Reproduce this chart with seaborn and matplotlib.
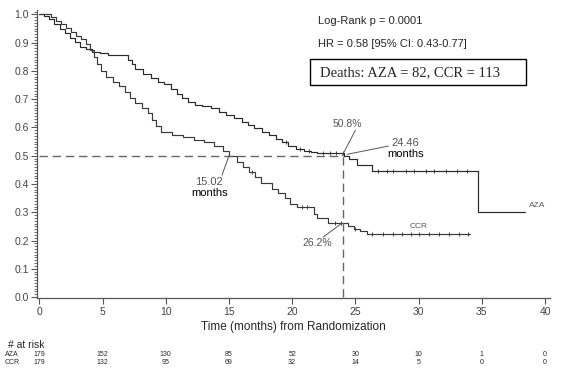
import matplotlib
matplotlib.use("Agg")
import matplotlib.pyplot as plt
import matplotlib.patches as mpatches
from matplotlib.ticker import MultipleLocator
import numpy as np
import pandas as pd
import seaborn as sns

# Kaplan-Meier step points
aza_time = [0, 0.4, 0.8, 1.2, 1.6, 2.0, 2.4, 2.8, 3.2, 3.7, 4.2, 4.8, 5.4, 7.0, 7.3, 7.6,
            8.2, 8.8, 9.4, 9.9, 10.4, 10.9, 11.3, 11.8, 12.3, 12.9, 13.6, 14.2, 14.8, 15.4,
            16.0, 16.5, 17.0, 17.6, 18.2, 18.7, 19.2, 19.7, 20.3, 20.9, 21.5, 22.0, 24.1,
            24.5, 25.1, 26.3, 34.7, 38.4]
aza_surv = [1.0, 0.994, 0.983, 0.966, 0.95, 0.934, 0.918, 0.902, 0.886, 0.876, 0.868, 0.862,
            0.855, 0.84, 0.826, 0.805, 0.79, 0.776, 0.762, 0.752, 0.735, 0.72, 0.705, 0.69,
            0.68, 0.676, 0.668, 0.656, 0.644, 0.632, 0.62, 0.61, 0.598, 0.585, 0.572, 0.56,
            0.548, 0.535, 0.525, 0.518, 0.512, 0.508, 0.50, 0.49, 0.466, 0.446, 0.30, 0.30]

ccr_time = [0, 0.9, 1.3, 1.7, 2.1, 2.5, 2.9, 3.3, 3.7, 4.0, 4.3, 4.6, 4.9, 5.3, 5.8, 6.3,
            6.8, 7.2, 7.6, 8.1, 8.6, 8.9, 9.2, 9.6, 10.5, 11.4, 12.2, 13.0, 13.8, 14.5, 15.0,
            15.6, 16.1, 16.6, 17.1, 17.5, 18.4, 18.9, 19.4, 19.8, 20.4, 21.7, 22.0, 22.8,
            24.4, 24.9, 25.4, 25.9, 34.1]
ccr_surv = [1.0, 0.99, 0.978, 0.966, 0.952, 0.938, 0.925, 0.912, 0.895, 0.875, 0.85, 0.825,
            0.8, 0.78, 0.762, 0.745, 0.725, 0.705, 0.685, 0.668, 0.65, 0.628, 0.606, 0.585,
            0.575, 0.565, 0.556, 0.548, 0.535, 0.515, 0.50, 0.478, 0.46, 0.443, 0.425, 0.405,
            0.383, 0.367, 0.35, 0.33, 0.318, 0.295, 0.279, 0.262, 0.25, 0.24, 0.232, 0.224,
            0.224]

# censoring ticks
aza_censor = [19.5, 20.6, 21.3, 22.4, 23.0, 23.5, 24.0, 26.8, 27.5, 28.0, 29.0, 29.6, 30.6,
              31.2, 32.2, 33.0, 33.8]
ccr_censor = [16.8, 20.8, 21.2, 23.4, 23.9, 25.0, 26.3, 27.2, 28.0, 28.7, 29.4, 30.0, 30.8,
              31.6, 32.4, 33.2, 33.9]

# numbers at risk
risk_times = [0, 5, 10, 15, 20, 25, 30, 35, 40]
aza_risk = [179, 152, 130, 85, 52, 30, 10, 1, 0]
ccr_risk = [179, 132, 95, 69, 32, 14, 5, 0, 0]

medians = {"CCR": 15.02, "AZA": 24.46}
landmark = 24
landmark_surv = {"AZA": 50.8, "CCR": 26.2}

sns.set_style("ticks")
plt.rcParams["font.family"] = ["Liberation Sans", "DejaVu Sans"]

fig = plt.figure(figsize=(5.72, 3.85), dpi=100)
ax = fig.add_axes([0.0647, 0.2247, 0.897, 0.749])

line_col = "#2a2a2a"
grey = "#555555"

km = pd.concat([
    pd.DataFrame({"time": aza_time, "surv": aza_surv, "arm": "AZA"}),
    pd.DataFrame({"time": ccr_time, "surv": ccr_surv, "arm": "CCR"}),
])
sns.lineplot(data=km, x="time", y="surv", hue="arm", units="arm", estimator=None,
             palette={"AZA": line_col, "CCR": "#3a3a3a"}, drawstyle="steps-post",
             linewidth=0.85, legend=False, ax=ax)


def step_at(times, surv, t):
    i = np.searchsorted(times, t, side="right") - 1
    return surv[i]


cens = pd.concat([
    pd.DataFrame({"time": aza_censor,
                  "surv": [step_at(aza_time, aza_surv, t) for t in aza_censor]}),
    pd.DataFrame({"time": ccr_censor,
                  "surv": [step_at(ccr_time, ccr_surv, t) for t in ccr_censor]}),
])
sns.scatterplot(data=cens, x="time", y="surv", marker="|", s=6, color=line_col,
                linewidth=0.6, legend=False, ax=ax)

# median reference lines
ax.plot([0, landmark], [0.5, 0.5], color="#666666", lw=1.0, ls=(0, (6, 3.5)))
ax.plot([landmark, landmark], [0, 0.5], color="#666666", lw=1.0, ls=(0, (6, 3.5)))

# annotations with leader lines
lead = dict(arrowstyle="-", color=grey, lw=0.7, shrinkA=0, shrinkB=0)
ax.annotate("", xy=(landmark - 0.05, 0.50), xytext=(25.0, 0.59), arrowprops=lead)
ax.text(24.4, 0.611, f"{landmark_surv['AZA']}%", color=grey, fontsize=7.5,
        ha="center", va="center")
ax.annotate("", xy=(24.35, 0.505), xytext=(27.6, 0.534), arrowprops=lead)
ax.text(28.95, 0.545, f"{medians['AZA']:.2f}", color=grey, fontsize=8, ha="center", va="center")
ax.text(29.0, 0.505, "months", color="black", fontsize=8, ha="center", va="center")
ax.annotate("", xy=(medians["CCR"], 0.502), xytext=(14.45, 0.431), arrowprops=lead)
ax.text(13.4, 0.406, f"{medians['CCR']:.2f}", color=grey, fontsize=8, ha="center", va="center")
ax.text(13.45, 0.369, "months", color="black", fontsize=8, ha="center", va="center")
ax.annotate("", xy=(23.95, 0.262), xytext=(22.45, 0.212), arrowprops=lead)
ax.text(22.0, 0.19, f"{landmark_surv['CCR']}%", color=grey, fontsize=7.5,
        ha="center", va="center")

ax.text(30.0, 0.25, "CCR", color=grey, fontsize=6, ha="center", va="center")
ax.text(39.4, 0.325, "AZA", color=grey, fontsize=6, ha="center", va="center")

# axes styling
ax.set_xlim(-0.18, 40.4)
ax.set_ylim(-0.005, 1.015)
ax.set_xticks(risk_times)
ax.set_yticks(np.arange(0, 1.01, 0.1))
ax.set_yticklabels([f"{v:.1f}" for v in np.arange(0, 1.01, 0.1)])
ax.yaxis.set_minor_locator(MultipleLocator(0.01))
ax.tick_params(axis="both", which="major", labelsize=7.5, labelcolor="#444444",
               color=grey, length=4, width=0.8, pad=2)
ax.tick_params(axis="y", which="minor", length=2, width=0.6, color=grey)
ax.spines[["top", "right"]].set_visible(False)
for s in ["left", "bottom"]:
    ax.spines[s].set_color(grey)
    ax.spines[s].set_linewidth(0.9)
ax.set_xlabel("Time (months) from Randomization", fontsize=8.5, labelpad=3)
ax.set_ylabel("")

# statistics
fig.text(318 / 572, 1 - 21 / 385, "Log-Rank p = 0.0001", fontsize=8, va="center")
fig.text(318 / 572, 1 - 44 / 385, "HR = 0.58 [95% CI: 0.43-0.77]", fontsize=8, va="center")
fig.patches.append(mpatches.Rectangle((310 / 572, 1 - 85 / 385), 216 / 572, 26 / 385,
                                      transform=fig.transFigure, fill=False,
                                      edgecolor="black", linewidth=1.0))
fig.text(320 / 572, 1 - 72.5 / 385, "Deaths: AZA = 82, CCR = 113", fontsize=10.5,
         family=["Liberation Serif", "DejaVu Serif"], va="center")

# at-risk table
fig.text(8 / 572, 1 - 345 / 385, "# at risk", fontsize=7.5, va="center")
trans = matplotlib.transforms.blended_transform_factory(ax.transData, fig.transFigure)
for name, row, ypx in [("AZA", aza_risk, 355), ("CCR", ccr_risk, 362)]:
    fig.text(5 / 572, 1 - ypx / 385, name, fontsize=5, va="center")
    for t, n in zip(risk_times, row):
        ax.text(t, 1 - ypx / 385, str(n), fontsize=5, ha="center", va="center",
                transform=trans, clip_on=False)

fig.savefig("out.png", dpi=100, facecolor="white")
